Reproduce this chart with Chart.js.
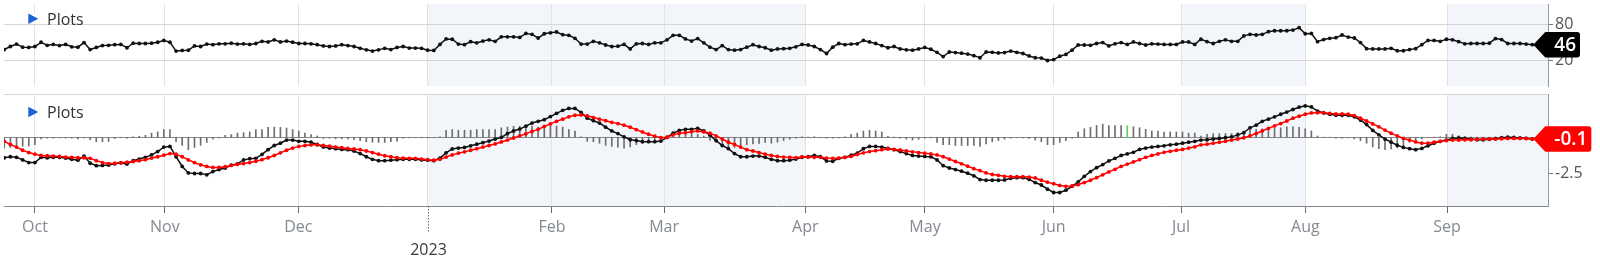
<!DOCTYPE html>
<html>
<head>
<meta charset="utf-8">
<script src="https://cdn.jsdelivr.net/npm/chart.js@4.4.0/dist/chart.umd.min.js"></script>
<style>
html, body { margin:0; padding:0; background:#fff; }
#wrap { position:relative; width:1600px; height:259px; overflow:hidden; }
#top { position:absolute; left:0; top:0; width:1600px; height:90px; }
#bot { position:absolute; left:0; top:90px; width:1600px; height:169px; }
</style>
</head>
<body>
<div id="wrap">
  <div id="top"><canvas id="rsiChart"></canvas></div>
  <div id="bot"><canvas id="macdChart"></canvas></div>
</div>
<script>
// trading-day index of each month start, and its label
var monthPos = [5.0, 26.18, 47.91, 69.04, 89.25, 107.52, 130.54, 150.04, 171.01, 191.77, 212.03, 235.12];
var monthLabels = ['Oct','Nov','Dec','','Feb','Mar','Apr','May','Jun','Jul','Aug','Sep'];
var yearLabel = '2023';
var yearTick = 3;
// shaded bands, by month tick (from, to); null = to the right edge
var shadeBands = [[3,6],[9,10],[11,null]];
var rsiTicks = [80, 20];
var macdTicks = [-2.5];
var highlightBars = [183];

var rsi = [
  38,43,47,42,41.5,43,50,45,46.5,44.5,
  46.5,42.5,42,49.5,38,41.5,44.5,45,46,46.5,
  41,48.5,48,48,48.5,50,53,50,35.5,36.5,
  37,44,43,47,46,47.5,47.5,48.5,47,47.5,
  46.5,48,51.5,50.5,54,50.5,52,50,48,48,
  47.5,46,44,43,44,46,44.5,43,40,37.5,
  35.5,37.5,40,38,41.5,43,40.5,40.5,40,37,
  36.5,46.5,55.5,55,47,46,51,49,52,54,
  51.5,59,59,59,58,64.5,63,57,64,65.5,
  67,62.5,61.5,56.5,47,47,51.5,49,45.5,43,
  43.5,46.5,39,47.5,48,46.5,49,49,54,61.5,
  61.5,55.5,52,56,49,42,38,44.5,38,37,
  38,42,46,43,41,37,39,39.5,40,42.5,
  46.5,45.5,43,38,31.5,42,48,46,47,47.5,
  53,50.5,48,44.5,41,43,39,37.5,37,39,
  41.5,38.5,33.5,26.5,34,33,32,30.5,28,24.5,
  34,33.5,32.5,33,35.5,33.5,31.5,27.5,24.5,24,
  20,21.5,27,30,37,45.5,45.5,45,48,49.5,
  44,47.5,49.5,46.5,50.5,48,45.5,47.5,47,46.5,
  46.5,46.5,50.5,50.5,46.5,55,51,48,51.5,54,
  51.5,51.5,60.5,63,62,63,67.5,69,69,69,
  70,74,64,64.5,51,54.5,56.5,57.5,62,58.5,
  57,49.5,39.5,39,39,39,40,36,36,38,
  39.5,46,53,53,51.5,55,54,51,47.5,48,
  48,48,48.5,56,54.5,48,48,48,47,46
];

var macd = [
  -1.41,-1.34,-1.38,-1.56,-1.74,-1.74,-1.38,-1.41,-1.38,-1.38,
  -1.43,-1.52,-1.58,-1.29,-1.79,-1.96,-1.94,-1.92,-1.83,-1.76,
  -1.85,-1.61,-1.50,-1.38,-1.21,-0.98,-0.67,-0.62,-1.34,-2.01,
  -2.46,-2.50,-2.50,-2.59,-2.37,-2.23,-2.12,-1.92,-1.83,-1.56,
  -1.47,-1.45,-1.18,-0.85,-0.56,-0.40,-0.18,-0.18,-0.27,-0.27,
  -0.33,-0.49,-0.67,-0.74,-0.78,-0.83,-0.85,-0.94,-1.12,-1.34,
  -1.52,-1.61,-1.61,-1.58,-1.54,-1.52,-1.52,-1.52,-1.56,-1.58,
  -1.61,-1.43,-1.07,-0.80,-0.74,-0.69,-0.58,-0.47,-0.36,-0.25,
  -0.11,0,0.27,0.45,0.58,0.78,1.00,1.12,1.23,1.45,
  1.67,1.88,2.01,2.01,1.74,1.34,1.16,1.00,0.71,0.45,
  0.27,0.04,-0.16,-0.22,-0.29,-0.29,-0.29,-0.25,0,0.29,
  0.49,0.56,0.56,0.63,0.45,0.16,-0.22,-0.56,-0.78,-1.12,
  -1.34,-1.34,-1.29,-1.29,-1.38,-1.52,-1.61,-1.61,-1.58,-1.50,
  -1.38,-1.34,-1.25,-1.34,-1.63,-1.65,-1.45,-1.38,-1.23,-1.09,
  -0.78,-0.62,-0.62,-0.67,-0.76,-0.85,-0.98,-1.12,-1.25,-1.29,
  -1.32,-1.34,-1.56,-1.96,-2.12,-2.23,-2.34,-2.48,-2.66,-2.92,
  -2.97,-2.97,-2.97,-2.95,-2.83,-2.79,-2.79,-2.90,-3.13,-3.30,
  -3.59,-3.82,-3.82,-3.66,-3.39,-3.08,-2.70,-2.37,-2.10,-1.88,
  -1.63,-1.45,-1.25,-1.14,-1.03,-0.83,-0.74,-0.67,-0.62,-0.58,
  -0.51,-0.47,-0.40,-0.33,-0.27,-0.18,-0.16,-0.11,-0.07,-0.02,
  0.04,0.18,0.33,0.67,0.85,1.12,1.27,1.43,1.61,1.76,
  1.94,2.10,2.19,2.12,1.83,1.70,1.61,1.54,1.54,1.54,
  1.43,1.21,0.89,0.49,0.18,-0.11,-0.33,-0.54,-0.69,-0.78,
  -0.85,-0.76,-0.58,-0.40,-0.27,-0.18,-0.07,-0.04,-0.07,-0.11,
  -0.16,-0.16,-0.13,-0.09,-0.02,0.02,0,-0.04,-0.07,-0.11
];

var signal = [
  -0.27,-0.49,-0.67,-0.89,-1.05,-1.16,-1.25,-1.27,-1.29,-1.32,
  -1.36,-1.38,-1.41,-1.41,-1.45,-1.61,-1.74,-1.81,-1.79,-1.76,
  -1.72,-1.67,-1.61,-1.54,-1.43,-1.34,-1.23,-1.12,-1.16,-1.34,
  -1.56,-1.74,-1.90,-2.01,-2.08,-2.08,-2.03,-1.94,-1.87,-1.81,
  -1.74,-1.65,-1.54,-1.41,-1.25,-1.07,-0.89,-0.74,-0.62,-0.56,
  -0.51,-0.51,-0.56,-0.60,-0.67,-0.71,-0.76,-0.80,-0.85,-0.94,
  -1.05,-1.16,-1.27,-1.34,-1.41,-1.43,-1.45,-1.45,-1.50,-1.54,
  -1.58,-1.52,-1.36,-1.21,-1.09,-1.00,-0.89,-0.78,-0.67,-0.56,
  -0.45,-0.31,-0.18,-0.04,0.11,0.25,0.42,0.56,0.76,0.94,
  1.12,1.27,1.43,1.54,1.56,1.50,1.38,1.27,1.16,1.05,
  0.96,0.85,0.71,0.54,0.38,0.22,0.09,-0.02,0.02,0.18,
  0.29,0.33,0.40,0.45,0.38,0.29,0.11,-0.11,-0.33,-0.49,
  -0.67,-0.85,-0.94,-1.05,-1.16,-1.25,-1.32,-1.36,-1.38,-1.41,
  -1.34,-1.36,-1.38,-1.38,-1.43,-1.45,-1.43,-1.38,-1.32,-1.18,
  -1.07,-0.98,-0.92,-0.85,-0.80,-0.83,-0.87,-0.94,-1.00,-1.05,
  -1.09,-1.14,-1.21,-1.34,-1.50,-1.67,-1.83,-1.99,-2.17,-2.30,
  -2.46,-2.57,-2.63,-2.70,-2.72,-2.72,-2.72,-2.75,-2.81,-2.97,
  -3.10,-3.21,-3.33,-3.39,-3.37,-3.28,-3.13,-2.97,-2.79,-2.59,
  -2.39,-2.21,-2.01,-1.85,-1.70,-1.54,-1.38,-1.25,-1.14,-1.03,
  -0.96,-0.89,-0.83,-0.74,-0.65,-0.51,-0.47,-0.40,-0.33,-0.27,
  -0.18,-0.11,-0.02,0.11,0.27,0.45,0.63,0.80,0.96,1.14,
  1.34,1.47,1.61,1.70,1.72,1.72,1.67,1.63,1.63,1.61,
  1.52,1.34,1.14,0.94,0.74,0.51,0.29,0.11,-0.07,-0.18,
  -0.31,-0.40,-0.40,-0.33,-0.27,-0.22,-0.18,-0.18,-0.16,-0.16,
  -0.13,-0.11,-0.11,-0.11,-0.09,-0.07,-0.07,-0.07,-0.07,-0.11
];

var hist = [
  -0.75,-0.7,-0.62,-0.6,-0.6,-0.5,-0.1,-0.05,-0.05,-0.03,
  -0.05,-0.05,-0.1,-0.04,-0.15,-0.3,-0.3,-0.28,-0.08,-0.02,
  -0.05,0.05,0.08,0.15,0.3,0.38,0.55,0.55,-0.3,-0.55,
  -0.85,-0.7,-0.55,-0.35,-0.12,-0.03,0.15,0.2,0.3,0.33,
  0.38,0.55,0.55,0.7,0.72,0.7,0.65,0.55,0.45,0.3,
  0.2,0.1,-0.07,-0.05,-0.1,-0.1,-0.1,-0.15,-0.22,-0.3,
  -0.33,-0.35,-0.35,-0.3,-0.25,-0.05,-0.03,-0.02,-0.03,-0.03,
  -0.02,0.05,0.5,0.55,0.5,0.5,0.5,0.55,0.55,0.55,
  0.55,0.67,0.72,0.78,0.78,0.78,0.78,0.72,0.74,0.78,
  0.8,0.72,0.55,0.45,0.05,-0.27,-0.3,-0.4,-0.55,-0.62,
  -0.67,-0.74,-0.65,-0.5,-0.4,-0.3,-0.2,-0.1,0,0.15,
  0.22,0.27,0.27,0.22,0.1,-0.2,-0.33,-0.55,-0.65,-0.7,
  -0.62,-0.5,-0.45,-0.42,-0.35,-0.4,-0.33,-0.22,-0.12,-0.05,
  0.04,0.02,0.05,-0.02,-0.05,-0.05,-0.03,0.05,0.22,0.3,
  0.45,0.5,0.45,0.38,0.07,0.02,-0.05,-0.12,-0.18,-0.12,
  -0.05,-0.03,-0.35,-0.5,-0.5,-0.56,-0.56,-0.56,-0.56,-0.62,
  -0.45,-0.3,-0.22,-0.12,-0.05,-0.02,-0.03,-0.07,-0.18,-0.3,
  -0.5,-0.5,-0.35,-0.22,-0.05,0.38,0.6,0.7,0.83,0.92,
  0.83,0.83,0.83,0.81,0.74,0.67,0.56,0.45,0.45,0.38,
  0.38,0.38,0.38,0.3,0.3,0.1,0.22,0.27,0.27,0.27,
  0.27,0.33,0.38,0.5,0.56,0.6,0.62,0.62,0.67,0.74,
  0.74,0.7,0.6,0.45,0.1,0.02,0.02,-0.05,-0.05,-0.03,
  -0.1,-0.22,-0.4,-0.65,-0.78,-0.85,-0.8,-0.72,-0.62,-0.33,
  -0.27,-0.1,-0.02,0.02,0.05,0.22,0.22,0.12,0.05,0.03,
  0.02,0.02,0.02,0.03,0.05,0.05,0.03,0.02,0.01,0
];

var xMin = -0.04, xMax = 251.56;
var FONT = '"Open Sans", sans-serif';
Chart.defaults.font.family = FONT;

function pts(arr) { return arr.map(function(v, i) { return {x: i, y: v}; }); }
function setTicks(list) { return function(scale) { scale.ticks = list.map(function(v) { return {value: v}; }); }; }
// fixed axis sizes, and no extra label padding eating into the plot
function fixSize(w, h) {
  return function(s) {
    if (w !== null) s.width = w;
    if (h !== null) s.height = h;
    s.paddingTop = 0; s.paddingBottom = 0; s.paddingLeft = 0; s.paddingRight = 0;
  };
}

var shadePlugin = {
  id: 'shade',
  beforeDraw: function(chart) {
    var ctx = chart.ctx, a = chart.chartArea, x = chart.scales.x;
    ctx.save();
    ctx.fillStyle = '#f2f5f9';
    shadeBands.forEach(function(b) {
      var x0 = x.getPixelForValue(monthPos[b[0]]);
      var x1 = b[1] === null ? a.right : x.getPixelForValue(monthPos[b[1]]);
      ctx.fillRect(x0, a.top, x1 - x0, a.bottom - a.top);
    });
    ctx.restore();
  }
};

function plotsLabel(cy, clearBg) {
  return {
    id: 'plotsLabel',
    afterDraw: function(chart) {
      var ctx = chart.ctx;
      ctx.save();
      if (clearBg) { ctx.fillStyle = '#fff'; ctx.fillRect(17, cy - 5, 121, 10); }
      ctx.fillStyle = '#1a62d6';
      ctx.beginPath();
      ctx.moveTo(28.3, cy - 5.3); ctx.lineTo(38.3, cy); ctx.lineTo(28.3, cy + 5.3);
      ctx.closePath(); ctx.fill();
      ctx.fillStyle = '#333';
      ctx.font = '16px ' + FONT;
      ctx.textBaseline = 'alphabetic';
      ctx.fillText('Plots', 47, cy + 6.3);
      ctx.restore();
    }
  };
}

function lastValueBadge(dsIndex, fill, fmt) {
  return {
    id: 'badge',
    afterDraw: function(chart) {
      var meta = chart.getDatasetMeta(dsIndex);
      var pt = meta.data[meta.data.length - 1];
      var ds = chart.data.datasets[dsIndex];
      var txt = fmt(ds.data[ds.data.length - 1].y);
      var ctx = chart.ctx;
      ctx.save();
      ctx.font = '600 19px ' + FONT;
      var w = ctx.measureText(txt).width;
      var tip = pt.x + 1, cy = pt.y, h = 25.5, r = 3;
      var left = tip + 12, right = left + 9 + w + 4, top = cy - h / 2, bot = cy + h / 2;
      ctx.fillStyle = fill;
      ctx.beginPath();
      ctx.moveTo(tip, cy);
      ctx.lineTo(left, top);
      ctx.lineTo(right - r, top);
      ctx.arcTo(right, top, right, top + r, r);
      ctx.lineTo(right, bot - r);
      ctx.arcTo(right, bot, right - r, bot, r);
      ctx.lineTo(left, bot);
      ctx.closePath();
      ctx.fill();
      ctx.fillStyle = '#fff';
      ctx.textBaseline = 'middle';
      ctx.fillText(txt, left + 9, cy + 1);
      ctx.restore();
    }
  };
}

var paneLines = {
  id: 'paneLines',
  beforeDatasetsDraw: function(chart) {
    var ctx = chart.ctx, a = chart.chartArea, y0 = Math.round(chart.scales.y.getPixelForValue(0)) + 0.5;
    ctx.save();
    ctx.lineWidth = 1;
    ctx.strokeStyle = '#d6d6d6';
    ctx.beginPath(); ctx.moveTo(a.left, a.top + 0.5); ctx.lineTo(a.right, a.top + 0.5); ctx.stroke();
    ctx.strokeStyle = '#8a8a8a';
    ctx.beginPath(); ctx.moveTo(a.left, y0); ctx.lineTo(a.right, y0); ctx.stroke();
    ctx.restore();
  }
};

var yearMark = {
  id: 'yearMark',
  afterDraw: function(chart) {
    var ctx = chart.ctx, a = chart.chartArea;
    var x = Math.round(chart.scales.x.getPixelForValue(monthPos[yearTick])) + 0.5;
    ctx.save();
    ctx.strokeStyle = '#666';
    ctx.lineWidth = 1;
    ctx.setLineDash([1.5, 1.5]);
    ctx.beginPath(); ctx.moveTo(x, a.bottom); ctx.lineTo(x, a.bottom + 26); ctx.stroke();
    ctx.fillStyle = '#3c3c3c';
    ctx.font = '16px ' + FONT;
    ctx.textAlign = 'center';
    ctx.textBaseline = 'alphabetic';
    ctx.fillText(yearLabel, x, a.bottom + 49);
    ctx.restore();
  }
};

var common = {
  responsive: true,
  maintainAspectRatio: false,
  animation: false,
  devicePixelRatio: 1,
  layout: { padding: 0 },
  plugins: { legend: { display: false }, tooltip: { enabled: false } }
};

function tickText(v) { return String(v); }

new Chart(document.getElementById('rsiChart'), {
  type: 'line',
  data: {
    datasets: [{
      data: pts(rsi),
      borderColor: '#111', borderWidth: 1.5, tension: 0,
      pointRadius: 1.9, pointBorderWidth: 0, pointBackgroundColor: '#111'
    }]
  },
  options: Object.assign({}, common, {
    scales: {
      x: {
        type: 'linear', min: xMin, max: xMax, offset: false,
        afterBuildTicks: setTicks(monthPos),
        afterFit: fixSize(null, 0),
        ticks: { display: false },
        grid: { color: '#e3e3e3', drawTicks: false, offset: false },
        border: { display: false }
      },
      y: {
        position: 'right', min: -22, max: 113,
        afterBuildTicks: setTicks(rsiTicks),
        afterFit: fixSize(52, null),
        ticks: { color: '#555', font: { size: 16 }, padding: 2, callback: tickText },
        grid: { color: '#d6d6d6', tickLength: 5, tickColor: '#777' },
        border: { color: '#999' }
      }
    }
  }),
  plugins: [shadePlugin, plotsLabel(18.7, true), lastValueBadge(0, '#000', function(v) { return String(Math.round(v)); })]
});

new Chart(document.getElementById('macdChart'), {
  type: 'line',
  data: {
    datasets: [
      {
        type: 'bar', data: pts(hist), order: 3,
        backgroundColor: hist.map(function(v, i) { return highlightBars.indexOf(i) >= 0 ? '#5ad35a' : '#6e6e6e'; }),
        barThickness: 1
      },
      {
        data: pts(macd), order: 2,
        borderColor: '#111', borderWidth: 1.5, tension: 0,
        pointRadius: 1.9, pointBorderWidth: 0, pointBackgroundColor: '#111'
      },
      {
        data: pts(signal), order: 1,
        borderColor: '#ff0000', borderWidth: 1.5, tension: 0,
        pointRadius: 1.9, pointBorderWidth: 0, pointBackgroundColor: '#ff0000'
      }
    ]
  },
  options: Object.assign({}, common, {
    scales: {
      x: {
        type: 'linear', min: xMin, max: xMax, offset: false,
        afterBuildTicks: setTicks(monthPos),
        afterFit: fixSize(null, 53),
        ticks: {
          callback: function(v, i) { return monthLabels[i]; },
          color: '#858a91', font: { size: 16 }, padding: 5,
          maxRotation: 0, autoSkip: false
        },
        grid: {
          color: '#e3e3e3', tickLength: 7, offset: false,
          tickColor: function(c) { return c.index === yearTick ? 'rgba(0,0,0,0)' : '#666'; }
        },
        border: { color: '#888' }
      },
      y: {
        position: 'right', min: -4.756, max: 3.014,
        afterBuildTicks: setTicks(macdTicks),
        afterFit: fixSize(52, null),
        ticks: { color: '#555', font: { size: 16 }, padding: 2, callback: tickText },
        grid: { drawOnChartArea: false, tickLength: 5, tickColor: '#777' },
        border: { color: '#999' }
      }
    }
  }),
  plugins: [shadePlugin, paneLines, plotsLabel(22, false), yearMark, lastValueBadge(2, '#ff0000', function(v) { return v.toFixed(1); })]
});
</script>
</body>
</html>
